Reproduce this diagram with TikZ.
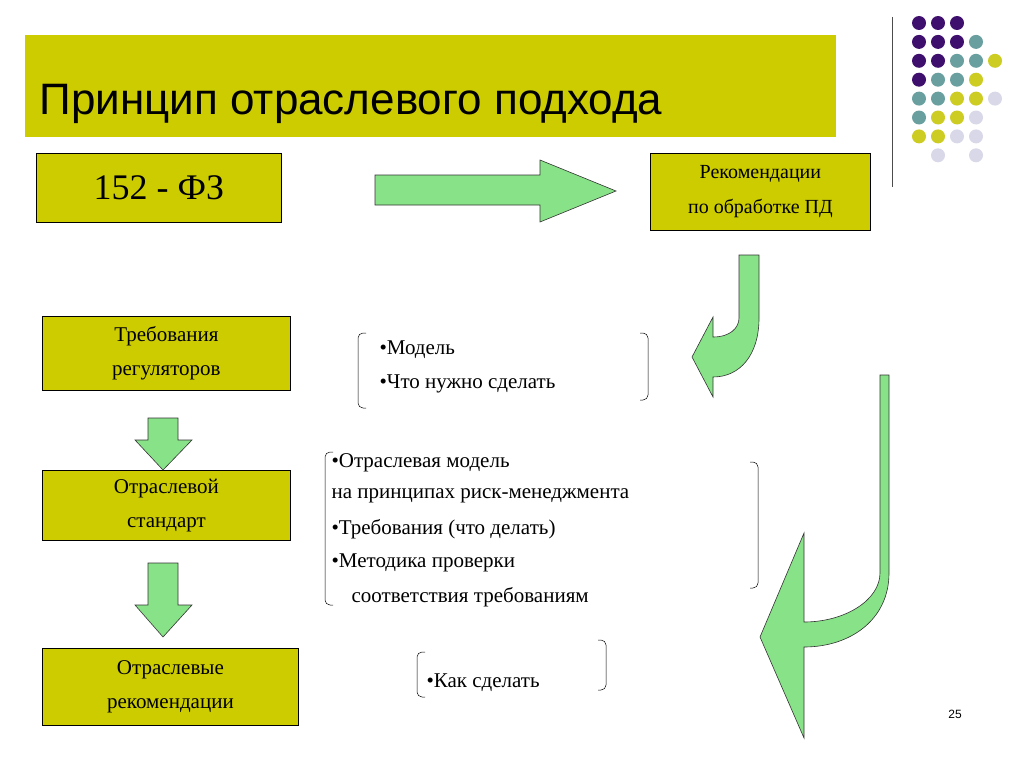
\documentclass[tikz,border=0pt]{standalone}
\usepackage{fontspec}
\setmainfont{Liberation Serif}
\newfontfamily\arialf{Liberation Sans}
\definecolor{olive}{RGB}{204,204,0}
\definecolor{agreen}{RGB}{136,226,136}
\definecolor{dP}{RGB}{63,15,110}
\definecolor{dT}{RGB}{106,159,160}
\definecolor{dY}{RGB}{204,204,34}
\definecolor{dL}{RGB}{216,216,232}
\begin{document}
\begin{tikzpicture}[x=1pt,y=-1pt,
  box/.style={draw=black,fill=olive,line width=0.8pt},
  arr/.style={draw=black!80,fill=agreen,line width=0.6pt},
  brk/.style={draw=black,line width=0.5pt,rounded corners=5pt},
  lbl/.style={font=\fontsize{21}{25}\selectfont,align=center}]
\useasboundingbox (0,0) rectangle (1024,768);
% title
\node[box,draw=none,minimum width=811,minimum height=102,anchor=north west] (title) at (25,35) {};
\node[anchor=west,font=\arialf\fontsize{44}{50}\selectfont] (tt) at (36,104) {Принцип отраслевого подхода};
% dots
\draw[black!70,line width=1pt] (892,17) -- (892,187);
\foreach \r/\row in {0/{P,P,P},1/{P,P,P,T},2/{P,P,T,T,Y},3/{P,T,T,Y},4/{T,T,Y,Y,L},5/{T,Y,Y,L},6/{Y,Y,L,L},7/{N,L,N,L}}{
  \foreach \c [count=\i from 0] in \row {
    \if\c N\else\fill[d\c] (919+19*\i,23+18.9*\r) circle (7);\fi
  }}
% boxes
\node[box,minimum width=245,minimum height=69,anchor=north west,font=\fontsize{36}{40}\selectfont] (fz) at (36,153) {152 - ФЗ};
\node[box,minimum width=220,minimum height=77,anchor=north west,lbl,font=\fontsize{20}{35}\selectfont] (rec) at (650,153) {Рекомендации\\ по обработке ПД};
\node[box,minimum width=248,minimum height=74,anchor=north west,lbl,font=\fontsize{21}{34}\selectfont] (req) at (42,316) {Требования\\ регуляторов};
\node[box,minimum width=248,minimum height=70,anchor=north west,lbl,font=\fontsize{21}{34}\selectfont] (std) at (42,470) {Отраслевой\\ стандарт};
\node[box,minimum width=256,minimum height=77,anchor=north west,lbl,font=\fontsize{21}{34}\selectfont] (orec) at (42,648) {Отраслевые\\ рекомендации};
% straight arrows
\draw[arr] (375,175) -- (540,175) -- (540,160) -- (616,191) -- (540,222) -- (540,205) -- (375,205) -- cycle;
\draw[arr] (148,418) -- (178,418) -- (178,440) -- (192,440) -- (163,470) -- (135,440) -- (148,440) -- cycle;
\draw[arr] (148,563) -- (178,563) -- (178,605) -- (192,605) -- (163,637) -- (135,605) -- (148,605) -- cycle;
% curved arrows
\draw[arr] (739,255) -- (759,255) -- (759,318) .. controls (759,355) and (740,377) .. (713,377)
  -- (713,397) -- (692,357) -- (713,317) -- (713,337) .. controls (730,337) and (739,328) .. (739,318) -- cycle;
\draw[arr] (880,375) -- (889,375) -- (889,573) .. controls (889,620) and (850,647) .. (804,647)
  -- (804,738) -- (760,637) -- (804,533) -- (804,622) .. controls (845,622) and (880,600) .. (880,573) -- cycle;
% brackets
\draw[brk] (366,333) -- (358,333) -- (358,408) -- (366,408);
\draw[brk] (640,333) -- (648,333) -- (648,400) -- (640,400);
\draw[brk] (333,452) -- (325,452) -- (325,605) -- (333,605);
\draw[brk] (750,462) -- (758,462) -- (758,588) -- (750,588);
\draw[brk] (425,652) -- (417,652) -- (417,697) -- (425,697);
\draw[brk] (598,640) -- (606,640) -- (606,690) -- (598,690);
% texts
\node[anchor=west,font=\fontsize{21}{25}\selectfont] (t1) at (376,350) {•Модель};
\node[anchor=west,font=\fontsize{21}{25}\selectfont] (t2) at (376,384) {•Что нужно сделать};
\node[anchor=west,font=\fontsize{21}{25}\selectfont] (u1) at (328,463) {•Отраслевая модель};
\node[anchor=west,font=\fontsize{21}{25}\selectfont] (u2) at (328,496) {на принципах риск-менеджмента};
\node[anchor=west,font=\fontsize{21}{25}\selectfont] (u3) at (328,529) {•Требования (что делать)};
\node[anchor=west,font=\fontsize{21}{25}\selectfont] (u4) at (328,563) {•Методика проверки};
\node[anchor=west,font=\fontsize{21}{25}\selectfont] (u5) at (348,597) {соответствия требованиям};
\node[anchor=west,font=\fontsize{21}{25}\selectfont] (k1) at (423,683) {•Как сделать};
\node[font=\arialf\fontsize{12}{14}\selectfont] (pg) at (955,714) {25};
\end{tikzpicture}
\end{document}
